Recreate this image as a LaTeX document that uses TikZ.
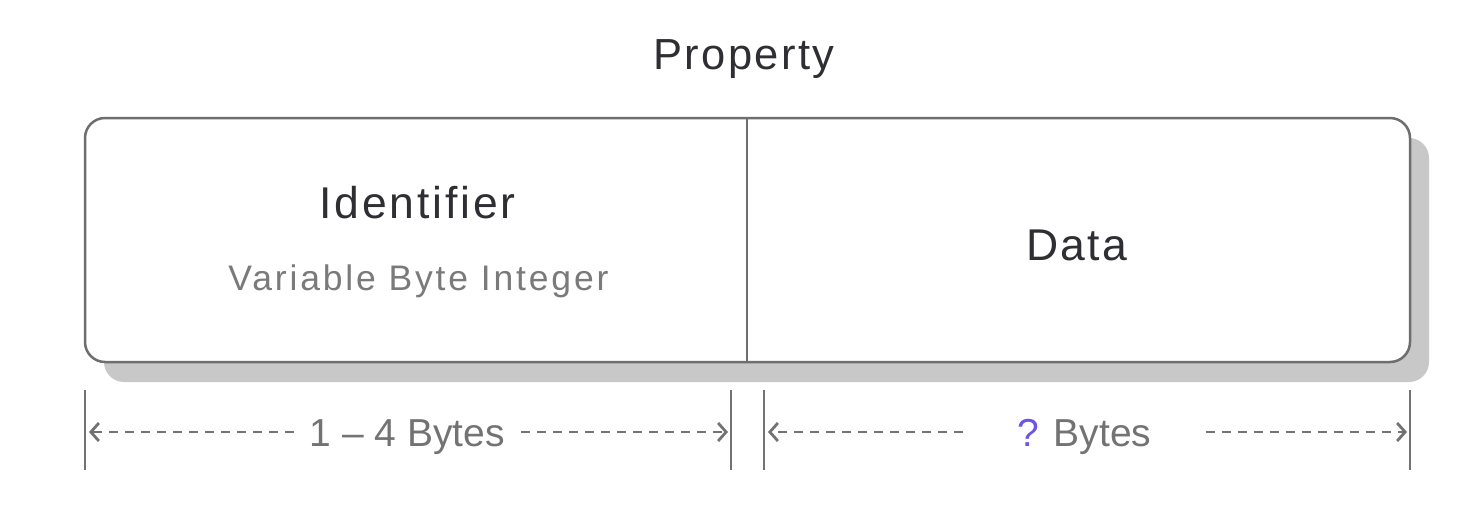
\documentclass[tikz,border=0pt]{standalone}
\usepackage{fontspec}
\setmainfont{Liberation Sans}
\usetikzlibrary{arrows.meta}
\definecolor{boxline}{HTML}{6E6E6E}
\definecolor{shadowc}{HTML}{C8C8C8}
\definecolor{titlec}{HTML}{2E2E33}
\definecolor{subc}{HTML}{7A7A7A}
\definecolor{dimc}{HTML}{737373}
\definecolor{qc}{HTML}{6A55E4}
\tikzset{
  titletext/.style={text=titlec, inner sep=0pt, anchor=base},
  subtext/.style={text=subc, inner sep=0pt, anchor=base, font=\fontsize{35.5}{40}\selectfont\addfontfeature{LetterSpace=8}},
  dimlabel/.style={text=dimc, anchor=base, inner ysep=0pt, font=\fontsize{39}{44}\selectfont},
  tickline/.style={draw=dimc, line width=2.4pt},
  dimarrow/.style={draw=dimc, line width=2.2pt, dash pattern=on 9pt off 7pt,
    -{Straight Barb[length=8pt,width=18pt,line width=2.8pt]}},
}
\begin{document}
\begin{tikzpicture}[x=1pt,y=-1pt]
\useasboundingbox (0,0) rectangle (1470,522);
% shadow
\fill[shadowc, rounded corners=20pt] (104,138) rectangle (1429,382);
% main box
\node[draw=boxline, fill=white, line width=2.5pt, rounded corners=20pt,
  minimum width=1325pt, minimum height=244pt, inner sep=0pt] (prop) at (747.5,240) {};
\coordinate (divtop) at (747,118);
\coordinate (divbot) at (747,362);
\draw[boxline, line width=2.5pt] (divtop) -- (divbot);
% texts
\node[titletext, font=\fontsize{43.5}{48}\selectfont\addfontfeature{LetterSpace=5.5}] (title) at (744,69.5) {Property};
\node[titletext, font=\fontsize{44.5}{50}\selectfont\addfontfeature{LetterSpace=6.5}] (ident) at (417.5,218) {Identifier};
\node[subtext] (vbi) at (418.5,290) {Variable Byte Integer};
\node[titletext, font=\fontsize{44.5}{50}\selectfont\addfontfeature{LetterSpace=5}] (data) at (1077,260) {Data};
% ticks
\coordinate (t1a) at (85,390);  \coordinate (t1b) at (85,470);
\coordinate (t2a) at (731,390); \coordinate (t2b) at (731,470);
\coordinate (t3a) at (764,390); \coordinate (t3b) at (764,470);
\coordinate (t4a) at (1410,390);\coordinate (t4b) at (1410,470);
\draw[tickline] (t1a) -- (t1b);
\draw[tickline] (t2a) -- (t2b);
\draw[tickline] (t3a) -- (t3b);
\draw[tickline] (t4a) -- (t4b);
% dimension labels
\node[dimlabel, inner xsep=16pt] (l1) at (407.5,446) {1 – 4 Bytes};
\node[dimlabel, inner xsep=54pt] (l2) at (1084.5,446) {\textcolor{qc}{?} Bytes};
\coordinate (a1) at (89,432);  \coordinate (a2) at (728,432);
\coordinate (a3) at (768,432); \coordinate (a4) at (1407,432);
\draw[dimarrow] (l1.west |- a1) -- (a1);
\draw[dimarrow] (l1.east |- a2) -- (a2);
\draw[dimarrow] (l2.west |- a3) -- (a3);
\draw[dimarrow] (l2.east |- a4) -- (a4);
\end{tikzpicture}
\end{document}
